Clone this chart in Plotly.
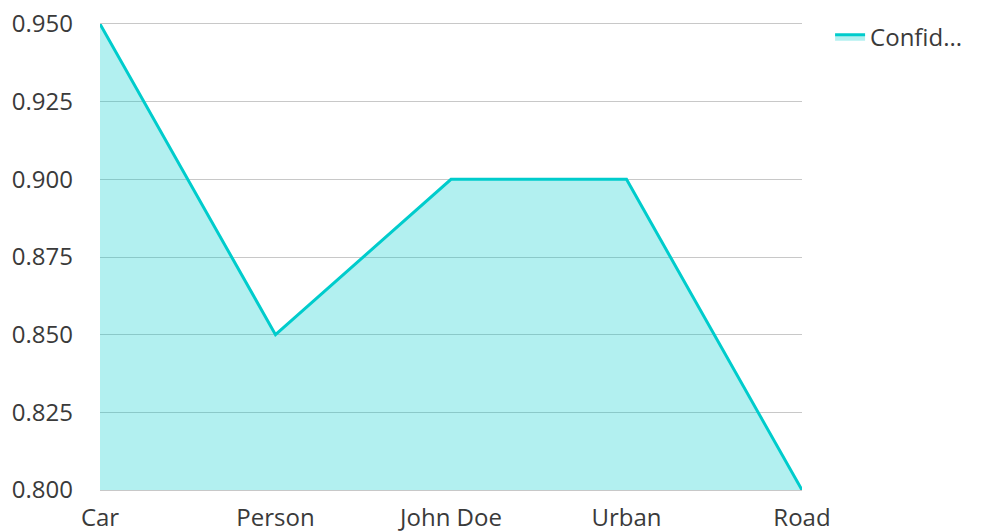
import plotly.graph_objects as go

categories = ["Car", "Person", "John Doe", "Urban", "Road"]
confidence = [0.95, 0.85, 0.90, 0.90, 0.80]
y_ticks = [0.800, 0.825, 0.850, 0.875, 0.900, 0.925, 0.950]
y_tick_labels = ["0.800", "0.825", "0.850", "0.875", "0.900", "0.925", "0.950"]
series_name = "Confid..."

fig = go.Figure()
fig.add_trace(go.Scatter(
    x=categories, y=confidence, name=series_name, mode="lines",
    line=dict(color="#00cccc", width=3),
    fill="tozeroy", fillcolor="rgba(0,204,204,0.3)",
))

fig.update_layout(
    width=984, height=532,
    margin=dict(l=92, r=190, t=16, b=50, autoexpand=False),
    paper_bgcolor="white", plot_bgcolor="white",
    font=dict(family="Open Sans", size=24, color="#3a3a3a"),
    showlegend=True,
    legend=dict(x=1.04, y=1.02, xanchor="left", yanchor="top",
                font=dict(size=24, color="#3a3a3a"), bgcolor="rgba(0,0,0,0)"),
    xaxis=dict(showgrid=False, showline=True, mirror=True, linecolor="#c8c8c8",
               linewidth=1, layer="below traces", zeroline=False,
               range=[0, 4], ticks="", tickfont=dict(size=24),
               ticklabelstandoff=6, ticklabeloverflow="allow"),
    yaxis=dict(range=[0.8, 0.95], tickvals=y_ticks, ticktext=y_tick_labels,
               showgrid=True, gridcolor="#c8c8c8", gridwidth=1,
               zeroline=False, showline=False, ticks="", tickfont=dict(size=24),
               ticklabelstandoff=26, ticklabeloverflow="allow"),
)

fig.write_html("out.html")
